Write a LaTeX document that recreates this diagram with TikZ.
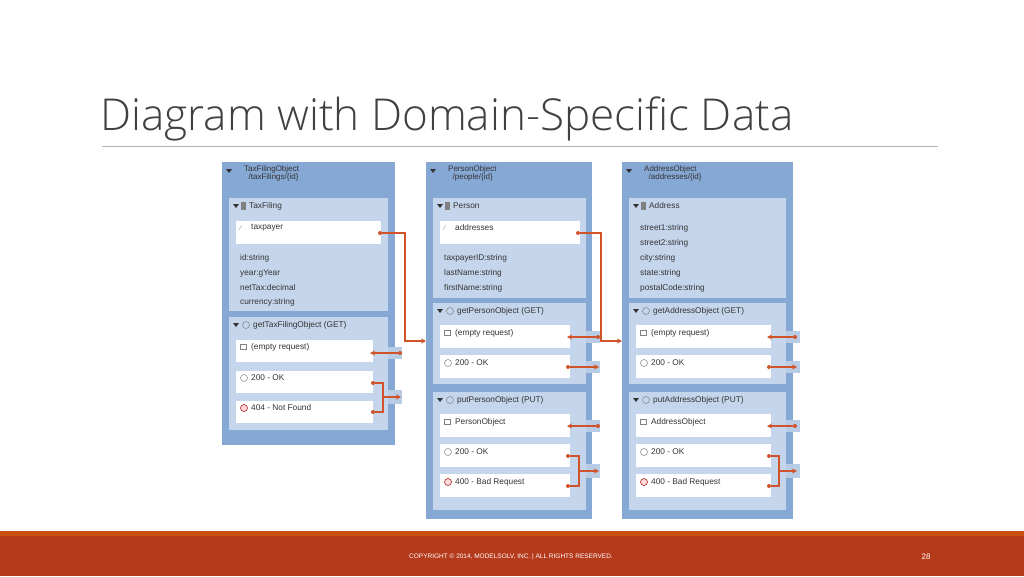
\documentclass[tikz,border=0pt]{standalone}
\usepackage{fontspec}
\setmainfont{Liberation Sans}
\newfontfamily\titlefont{Open Sans Light}
\usetikzlibrary{arrows.meta,fit}
\definecolor{outerc}{HTML}{86A8D4}
\definecolor{innerc}{HTML}{C5D5EB}
\definecolor{arr}{HTML}{D0532A}
\definecolor{txt}{HTML}{333333}
\definecolor{foot}{HTML}{B5391B}
\tikzset{
  outer/.style={fill=outerc,draw=none,inner sep=0},
  inner/.style={fill=innerc,draw=none,inner sep=0},
  wbox/.style={fill=white,draw=none,inner sep=0},
  lbl/.style={anchor=west,inner sep=0,font=\fontsize{8.3}{10}\selectfont,text=txt},
  conn/.style={draw=arr,line width=1.3pt,-{Stealth[length=5pt,width=5pt]}},
  line/.style={draw=arr,line width=1.3pt},
  dotc/.style={fill=arr,circle,inner sep=0,minimum size=4pt},
  tab/.style={fill=innerc!80!outerc,draw=none,inner sep=0},
  icn/.style={draw=gray,line width=0.5pt,circle,inner sep=0,minimum size=7pt},
}
\newcommand{\tri}[2]{\fill[txt] (#1-3,#2-2) -- (#1+3,#2-2) -- (#1,#2+2) -- cycle;}
\begin{document}
\begin{tikzpicture}[x=1pt,y=-1pt]
\useasboundingbox (0,0) rectangle (1024,576);
\fill[white] (0,0) rectangle (1024,576);
% title
\node[anchor=base west,inner sep=0,text=black!75,font=\titlefont\fontsize{44}{50}\selectfont] (title) at (100,130) {Diagram with Domain-Specific Data};
\draw[black!30,line width=0.7pt] (102,146) -- (938,146);
% footer
\fill[foot!70!orange] (0,531) rectangle (1024,536);
\fill[foot] (0,536) rectangle (1024,576);
\node[text=white,inner sep=0,font=\fontsize{6.5}{8}\selectfont] (copy) at (511,557) {COPYRIGHT © 2014, MODELSOLV, INC. | ALL RIGHTS RESERVED.};
\node[text=white,inner sep=0,font=\fontsize{8}{10}\selectfont] (pg) at (926,557) {28};

% ===== Column 1 =====
\node[outer,fit={(222,162)(395,445)}] (c1) {};
\tri{229}{171}
\node[lbl,anchor=north west,align=left,font=\fontsize{8}{8.5}\selectfont] (c1h) at (244,165) {TaxFilingObject\\\ \ /taxFilings/\{id\}};
\node[inner,fit={(229,198)(388,311)}] (p1) {};
\tri{236}{206}
\node[lbl] (p1h) at (249,206) {TaxFiling};
\fill[gray] (241,202) rectangle (246,210);
\node[wbox,fit={(236,221)(381,244)}] (tp) {};
\node[lbl] (tpt) at (251,228) {taxpayer};
\node[lbl,text=gray] (tpi) at (240,228) {\fontsize{7}{7}\selectfont ⁄};
\node[lbl] (f11) at (240,258) {id:string};
\node[lbl] (f12) at (240,273) {year:gYear};
\node[lbl] (f13) at (240,288) {netTax:decimal};
\node[lbl] (f14) at (240,302) {currency:string};
\node[inner,fit={(229,317)(388,430)}] (g1) {};
\tri{236}{325}
\node[icn] (g1i) at (246,325) {};
\node[lbl] (g1h) at (253,325) {getTaxFilingObject (GET)};
\node[wbox,fit={(236,340)(373,362)}] (g1r) {};
\node[lbl] (g1rt) at (251,347) {(empty request)};
\draw[gray] (240,344) rectangle (246,349);
\node[wbox,fit={(236,371)(373,393)}] (g1a) {};
\node[icn] (g1ai) at (244,378) {};
\node[lbl] (g1at) at (251,378) {200 - OK};
\node[wbox,fit={(236,401)(373,423)}] (g1b) {};
\node[icn,draw=red!60!black,fill=red!15] (g1bi) at (244,408) {};
\node[lbl] (g1bt) at (251,408) {404 - Not Found};
\node[tab,fit={(388,347)(402,359)}] (t1a) {};
\node[tab,fit={(388,390)(402,404)}] (t1b) {};
% arrows col1
\node[dotc] (d1r) at (400,353) {};
\draw[conn] (d1r) -- (370,353);
\node[dotc] (d1a) at (373,383) {};
\node[dotc] (d1b) at (373,412) {};
\coordinate (j1) at (383,397);
\draw[line] (d1a) -| (j1) |- (d1b);
\draw[conn] (j1) -- (401,397);

% ===== Column 2 =====
\node[outer,fit={(426,162)(592,519)}] (c2) {};
\tri{433}{171}
\node[lbl,anchor=north west,align=left,font=\fontsize{8}{8.5}\selectfont] (c2h) at (448,165) {PersonObject\\\ \ /people/\{id\}};
\node[inner,fit={(433,198)(586,298)}] (p2) {};
\tri{440}{206}
\fill[gray] (445,202) rectangle (450,210);
\node[lbl] (p2h) at (453,206) {Person};
\node[wbox,fit={(440,221)(580,244)}] (ad) {};
\node[lbl] (adt) at (455,228) {addresses};
\node[lbl,text=gray] (adi) at (444,228) {\fontsize{7}{7}\selectfont ⁄};
\node[lbl] (f21) at (444,258) {taxpayerID:string};
\node[lbl] (f22) at (444,273) {lastName:string};
\node[lbl] (f23) at (444,288) {firstName:string};
\node[inner,fit={(433,303)(586,384)}] (g2) {};
\tri{440}{311}
\node[icn] (g2i) at (450,311) {};
\node[lbl] (g2h) at (457,311) {getPersonObject (GET)};
\node[wbox,fit={(440,325)(570,348)}] (g2r) {};
\draw[gray] (444,330) rectangle (450,335);
\node[lbl] (g2rt) at (455,333) {(empty request)};
\node[wbox,fit={(440,355)(570,378)}] (g2a) {};
\node[icn] (g2ai) at (448,363) {};
\node[lbl] (g2at) at (455,363) {200 - OK};
\node[inner,fit={(433,392)(586,510)}] (u2) {};
\tri{440}{400}
\node[icn] (u2i) at (450,400) {};
\node[lbl] (u2h) at (457,400) {putPersonObject (PUT)};
\node[wbox,fit={(440,414)(570,437)}] (u2r) {};
\draw[gray] (444,419) rectangle (450,424);
\node[lbl] (u2rt) at (455,422) {PersonObject};
\node[wbox,fit={(440,444)(570,467)}] (u2a) {};
\node[icn] (u2ai) at (448,452) {};
\node[lbl] (u2at) at (455,452) {200 - OK};
\node[wbox,fit={(440,474)(570,497)}] (u2b) {};
\node[icn,draw=red!60!black,fill=red!15] (u2bi) at (448,482) {};
\node[lbl] (u2bt) at (455,482) {400 - Bad Request};
\node[tab,fit={(586,331)(600,343)}] (t2a) {};
\node[tab,fit={(586,361)(600,373)}] (t2b) {};
\node[tab,fit={(586,420)(600,432)}] (t2c) {};
\node[tab,fit={(586,464)(600,478)}] (t2d) {};
\node[dotc] (d2r) at (598,337) {};
\draw[conn] (d2r) -- (567,337);
\node[dotc] (d2a) at (568,367) {};
\draw[conn] (d2a) -- (599,367);
\node[dotc] (d2p) at (598,426) {};
\draw[conn] (d2p) -- (567,426);
\node[dotc] (d2c) at (568,456) {};
\node[dotc] (d2d) at (568,486) {};
\coordinate (j2) at (579,471);
\draw[line] (d2c) -| (j2) |- (d2d);
\draw[conn] (j2) -- (599,471);

% ===== Column 3 =====
\node[outer,fit={(622,162)(793,519)}] (c3) {};
\tri{629}{171}
\node[lbl,anchor=north west,align=left,font=\fontsize{8}{8.5}\selectfont] (c3h) at (644,165) {AddressObject\\\ \ /addresses/\{id\}};
\node[inner,fit={(629,198)(786,298)}] (p3) {};
\tri{636}{206}
\fill[gray] (641,202) rectangle (646,210);
\node[lbl] (p3h) at (649,206) {Address};
\node[lbl] (f31) at (640,228) {street1:string};
\node[lbl] (f32) at (640,243) {street2:string};
\node[lbl] (f33) at (640,258) {city:string};
\node[lbl] (f34) at (640,273) {state:string};
\node[lbl] (f35) at (640,288) {postalCode:string};
\node[inner,fit={(629,303)(786,384)}] (g3) {};
\tri{636}{311}
\node[icn] (g3i) at (646,311) {};
\node[lbl] (g3h) at (653,311) {getAddressObject (GET)};
\node[wbox,fit={(636,325)(771,348)}] (g3r) {};
\draw[gray] (640,330) rectangle (646,335);
\node[lbl] (g3rt) at (651,333) {(empty request)};
\node[wbox,fit={(636,355)(771,378)}] (g3a) {};
\node[icn] (g3ai) at (644,363) {};
\node[lbl] (g3at) at (651,363) {200 - OK};
\node[inner,fit={(629,392)(786,510)}] (u3) {};
\tri{636}{400}
\node[icn] (u3i) at (646,400) {};
\node[lbl] (u3h) at (653,400) {putAddressObject (PUT)};
\node[wbox,fit={(636,414)(771,437)}] (u3r) {};
\draw[gray] (640,419) rectangle (646,424);
\node[lbl] (u3rt) at (651,422) {AddressObject};
\node[wbox,fit={(636,444)(771,467)}] (u3a) {};
\node[icn] (u3ai) at (644,452) {};
\node[lbl] (u3at) at (651,452) {200 - OK};
\node[wbox,fit={(636,474)(771,497)}] (u3b) {};
\node[icn,draw=red!60!black,fill=red!15] (u3bi) at (644,482) {};
\node[lbl] (u3bt) at (651,482) {400 - Bad Request};
\node[tab,fit={(786,331)(800,343)}] (t3a) {};
\node[tab,fit={(786,361)(800,373)}] (t3b) {};
\node[tab,fit={(786,420)(800,432)}] (t3c) {};
\node[tab,fit={(786,464)(800,478)}] (t3d) {};
\node[dotc] (d3r) at (795,337) {};
\draw[conn] (d3r) -- (767,337);
\node[dotc] (d3a) at (769,367) {};
\draw[conn] (d3a) -- (797,367);
\node[dotc] (d3p) at (795,426) {};
\draw[conn] (d3p) -- (767,426);
\node[dotc] (d3c) at (769,456) {};
\node[dotc] (d3d) at (769,486) {};
\coordinate (j3) at (779,471);
\draw[line] (d3c) -| (j3) |- (d3d);
\draw[conn] (j3) -- (797,471);

% ===== cross links =====
\node[dotc] (dtp) at (380,233) {};
\draw[conn] (dtp) -- (405,233) |- (426,341);
\node[dotc] (dad) at (578,233) {};
\draw[conn] (dad) -- (601,233) |- (622,341);
\end{tikzpicture}
\end{document}
